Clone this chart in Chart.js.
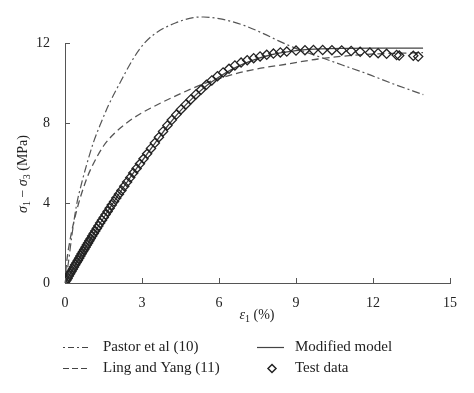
<!DOCTYPE html>
<html lang="en">
<head>
<meta charset="UTF-8">
<title>Stress-strain curves</title>
<script src="https://cdn.jsdelivr.net/npm/chart.js"></script>
<style>
  html, body { margin: 0; padding: 0; background: #fff; }
  #wrap { width: 474px; height: 393px; }
</style>
</head>
<body>
<div id="wrap"><canvas id="chart" width="474" height="393"></canvas></div>
<script>
// axial strain (%) / deviator stress (MPa)
const testStrain = [0, 0.05, 0.1, 0.15, 0.2, 0.25, 0.3, 0.35, 0.4, 0.45, 0.5, 0.55, 0.6, 0.65, 0.7, 0.75, 0.8, 0.85, 0.9, 0.95, 1.0,
  1.06, 1.12, 1.18, 1.24, 1.3, 1.37, 1.44, 1.51, 1.58, 1.66, 1.74, 1.82, 1.91, 2.0, 2.1, 2.2, 2.31, 2.42, 2.54, 2.66, 2.79, 2.92,
  3.06, 3.2, 3.35, 3.5, 3.66, 3.82, 3.99, 4.16, 4.34, 4.52, 4.71, 4.9, 5.1, 5.3, 5.51, 5.72, 5.94, 6.16, 6.39, 6.62, 6.86, 7.1,
  7.35, 7.6, 7.86, 8.12, 8.39, 8.64, 9.0, 9.35, 9.68, 10.04, 10.4, 10.78, 11.15, 11.5, 11.88, 12.2, 12.53, 12.92, 13.02, 13.57, 13.76];
const testStress = [0, 0.12, 0.23, 0.35, 0.46, 0.57, 0.69, 0.8, 0.91, 1.02, 1.13, 1.24, 1.35, 1.46, 1.57, 1.68, 1.79, 1.9, 2.0, 2.11, 2.22,
  2.35, 2.48, 2.6, 2.73, 2.85, 3.0, 3.14, 3.28, 3.42, 3.58, 3.74, 3.9, 4.07, 4.25, 4.44, 4.63, 4.84, 5.05, 5.27, 5.5, 5.73, 5.96,
  6.21, 6.46, 6.73, 7.0, 7.29, 7.58, 7.88, 8.15, 8.42, 8.68, 8.93, 9.18, 9.43, 9.66, 9.91, 10.13, 10.34, 10.53, 10.71, 10.88, 11.02, 11.14,
  11.24, 11.33, 11.41, 11.47, 11.53, 11.57, 11.62, 11.64, 11.65, 11.65, 11.64, 11.63, 11.6, 11.56, 11.52, 11.49, 11.46, 11.4, 11.37, 11.36, 11.32];

const modelStrain = [0, 0.5, 1, 1.5, 2, 2.5, 3, 3.5, 4, 4.5, 5, 5.5, 6, 6.5, 7, 7.5, 8, 8.5, 9, 9.5, 10, 11, 12, 13, 13.95];
const modelStress = [0, 1.12, 2.2, 3.25, 4.25, 5.2, 6.1, 6.98, 7.85, 8.62, 9.28, 9.85, 10.3, 10.68, 10.98, 11.22, 11.4, 11.53, 11.62, 11.68, 11.71, 11.73, 11.74, 11.74, 11.74];

const pastorStrain = [0, 0.13, 0.26, 0.45, 0.65, 0.84, 1.1, 1.4, 1.7, 2.2, 2.7, 3.1, 3.6, 4.3, 5.0, 5.4, 6.0, 6.5, 7.0, 7.73, 8.3, 8.9, 9.93, 10.8, 11.75, 12.8, 13.96];
const pastorStress = [0, 1.0, 2.3, 3.9, 5.0, 5.9, 7.0, 8.0, 8.9, 10.15, 11.3, 12.0, 12.55, 13.0, 13.27, 13.3, 13.22, 13.07, 12.87, 12.47, 12.12, 11.78, 11.3, 10.9, 10.47, 9.95, 9.42];

const lingStrain = [0, 0.06, 0.19, 0.45, 0.84, 1.1, 1.5, 1.9, 2.45, 2.92, 3.5, 4.22, 5.45, 7.08, 8.77, 9.86, 11.6, 13.95];
const lingStress = [0, 0.98, 2.1, 3.6, 5.2, 5.95, 6.85, 7.45, 8.05, 8.45, 8.85, 9.3, 9.98, 10.6, 10.97, 11.2, 11.42, 11.52];

const xTicks = [0, 3, 6, 9, 12, 15];
const yTicks = [0, 4, 8, 12];
const seriesNames = ['Pastor et al (10)', 'Ling and Yang (11)', 'Modified model', 'Test data'];

const SERIF = '"Liberation Serif", "DejaVu Serif", serif';
const AXIS = '#555';
const INK = '#222';

function pts(xs, ys) {
  return xs.map((v, i) => ({ x: v, y: ys[i] }));
}

// inward tick marks, axis titles with subscripts, two-column legend
const decorations = {
  id: 'decorations',
  afterDraw(chart) {
    const { ctx, scales: { x, y } } = chart;
    ctx.save();
    ctx.strokeStyle = AXIS;
    ctx.lineWidth = 1;
    xTicks.forEach(v => {
      const px = Math.round(x.getPixelForValue(v)) + 0.5;
      ctx.beginPath(); ctx.moveTo(px, y.bottom); ctx.lineTo(px, y.bottom - 5); ctx.stroke();
    });
    yTicks.forEach(v => {
      const py = Math.round(y.getPixelForValue(v)) + 0.5;
      ctx.beginPath(); ctx.moveTo(x.left, py); ctx.lineTo(x.left + 5, py); ctx.stroke();
    });

    ctx.fillStyle = INK;
    ctx.textBaseline = 'alphabetic';

    // text runs: [text, italic, subscript]
    function drawRuns(runs, cx, cy) {
      let w = 0;
      runs.forEach(r => {
        ctx.font = (r[1] ? 'italic ' : '') + (r[2] ? '10px ' : '14px ') + SERIF;
        r.w = ctx.measureText(r[0]).width;
        w += r.w;
      });
      let cur = cx - w / 2;
      runs.forEach(r => {
        ctx.font = (r[1] ? 'italic ' : '') + (r[2] ? '10px ' : '14px ') + SERIF;
        ctx.fillText(r[0], cur, cy + (r[2] ? 3 : 0));
        cur += r.w;
      });
    }

    drawRuns([['ε', true, false], ['1', false, true], [' (%)', false, false]], 257, 319);

    ctx.save();
    ctx.translate(27, 174);
    ctx.rotate(-Math.PI / 2);
    drawRuns([['σ', true, false], ['1', false, true], [' − ', false, false], ['σ', true, false], ['3', false, true], [' (MPa)', false, false]], 0, 0);
    ctx.restore();

    // legend
    const rows = [347, 368];
    const cols = [{ s: 63, t: 103 }, { s: 257, t: 295 }];
    const items = [
      { col: 0, row: 0, dash: [2, 3, 6, 3] },
      { col: 0, row: 1, dash: [6, 3] },
      { col: 1, row: 0, dash: [] },
      { col: 1, row: 1, marker: true }
    ];
    ctx.font = '15px ' + SERIF;
    ctx.textBaseline = 'middle';
    items.forEach((it, i) => {
      const c = cols[it.col], yy = rows[it.row] + 0.5;
      ctx.strokeStyle = '#444';
      ctx.lineWidth = 1.2;
      if (it.marker) {
        const mx = c.s + 15, r = 4;
        ctx.beginPath();
        ctx.moveTo(mx, yy - r); ctx.lineTo(mx + r, yy); ctx.lineTo(mx, yy + r); ctx.lineTo(mx - r, yy); ctx.closePath();
        ctx.strokeStyle = INK;
        ctx.lineWidth = 1.5;
        ctx.stroke();
      } else {
        ctx.setLineDash(it.dash);
        ctx.beginPath(); ctx.moveTo(c.s, yy); ctx.lineTo(c.s + 27, yy); ctx.stroke();
        ctx.setLineDash([]);
      }
      ctx.fillStyle = INK;
      ctx.fillText(seriesNames[i], c.t, rows[it.row]);
    });
    ctx.restore();
  }
};

new Chart(document.getElementById('chart'), {
  type: 'scatter',
  data: {
    datasets: [
      {
        label: seriesNames[3],
        data: pts(testStrain, testStress),
        showLine: false,
        pointStyle: 'rectRot',
        pointRadius: 4.6,
        borderColor: INK,
        borderWidth: 1.3,
        backgroundColor: 'rgba(255,255,255,0)',
        order: 0
      },
      {
        label: seriesNames[2],
        data: pts(modelStrain, modelStress),
        showLine: true,
        pointRadius: 0,
        borderColor: '#444',
        borderWidth: 1.3,
        cubicInterpolationMode: 'monotone',
        order: 1
      },
      {
        label: seriesNames[1],
        data: pts(lingStrain, lingStress),
        showLine: true,
        pointRadius: 0,
        borderColor: '#555',
        borderWidth: 1.3,
        borderDash: [7, 4],
        cubicInterpolationMode: 'monotone',
        order: 2
      },
      {
        label: seriesNames[0],
        data: pts(pastorStrain, pastorStress),
        showLine: true,
        pointRadius: 0,
        borderColor: '#555',
        borderWidth: 1.2,
        borderDash: [8, 3, 2, 3],
        cubicInterpolationMode: 'monotone',
        clip: false,
        order: 3
      }
    ]
  },
  options: {
    responsive: false,
    animation: false,
    layout: { padding: { top: 43, right: 24, left: 0, bottom: 0 } },
    plugins: { legend: { display: false }, tooltip: { enabled: false } },
    scales: {
      x: {
        type: 'linear',
        min: 0, max: 15,
        afterBuildTicks: s => { s.ticks = xTicks.map(v => ({ value: v })); },
        afterFit: s => { s.height = 110; },
        grid: { display: false },
        border: { display: true, color: AXIS, width: 1 },
        ticks: { padding: 4, color: INK, font: { family: SERIF, size: 14 } }
      },
      y: {
        type: 'linear',
        min: 0, max: 12,
        afterBuildTicks: s => { s.ticks = yTicks.map(v => ({ value: v })); },
        afterFit: s => { s.width = 65; },
        grid: { display: false },
        border: { display: true, color: AXIS, width: 1 },
        ticks: { padding: 7, color: INK, font: { family: SERIF, size: 14 } }
      }
    }
  },
  plugins: [decorations]
});
</script>
</body>
</html>
